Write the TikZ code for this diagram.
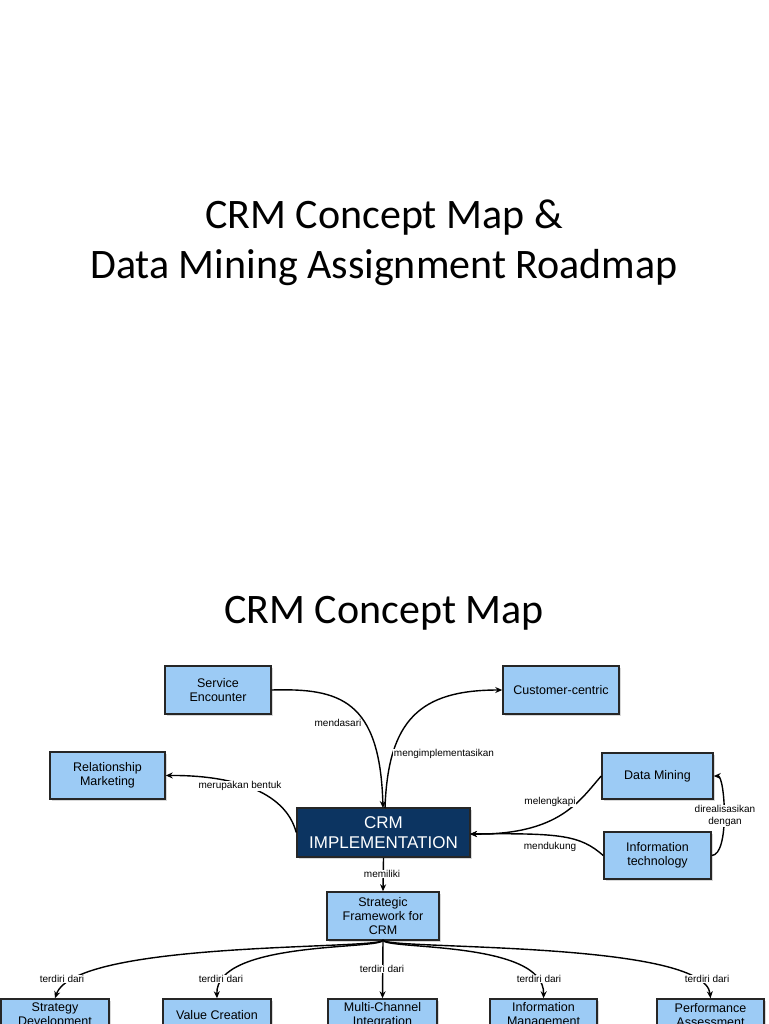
\documentclass[tikz,border=0pt]{standalone}
\usepackage{fontspec}
\setmainfont{Liberation Sans}
\newfontfamily\titlefont{Carlito}
\usetikzlibrary{shadows,arrows.meta}
\definecolor{boxblue}{HTML}{9CCBF5}
\definecolor{navy}{HTML}{0C3461}
\begin{document}
\begin{tikzpicture}[x=1pt,y=-1pt,
  box/.style={draw=black!85,line width=1.5pt,fill=boxblue,align=center,inner sep=1pt,
    font=\fontsize{12.5}{14}\selectfont,drop shadow={shadow xshift=2pt,shadow yshift=-2pt,opacity=0.3}},
  lab/.style={font=\fontsize{10}{12}\selectfont,align=center,fill=white,inner sep=0.5pt},
  con/.style={line width=1.4pt,-{Stealth[length=7pt,width=6pt]}},
  title/.style={font=\titlefont\fontsize{42}{48}\selectfont}]
\useasboundingbox (0,0) rectangle (768,1024);
\node[title] (t1) at (384,218) {CRM Concept Map \&};
\node[title] (t2) at (384,268) {Data Mining Assignment Roadmap};
\node[title] (t3) at (384,613) {CRM Concept Map};

\node[box,minimum width=106pt,minimum height=48pt] (se) at (218,690) {Service\\Encounter};
\node[box,minimum width=116pt,minimum height=48pt] (cc) at (561,690) {Customer-centric};
\node[box,minimum width=115pt,minimum height=47pt] (rm) at (107.5,775.5) {Relationship\\Marketing};
\node[box,minimum width=111pt,minimum height=46pt] (dm) at (657.5,776) {Data Mining};
\node[box,minimum width=107pt,minimum height=47pt] (it) at (657.5,855.5) {Information\\technology};
\node[box,fill=navy,text=white,minimum width=173pt,minimum height=49pt,font=\fontsize{17}{20}\selectfont] (crm) at (383.5,832.5) {CRM\\IMPLEMENTATION};
\node[box,minimum width=112pt,minimum height=48pt] (sf) at (383,916) {Strategic\\Framework for\\CRM};
\node[box,minimum width=108pt,minimum height=32pt] (b1) at (55,1015) {Strategy\\Development};
\node[box,minimum width=108pt,minimum height=32pt] (b2) at (217,1015) {Value Creation};
\node[box,minimum width=109pt,minimum height=32pt] (b3) at (382.5,1015) {Multi-Channel\\Integration};
\node[box,minimum width=107pt,minimum height=32pt] (b4) at (543.5,1015) {Information\\Management};
\node[box,minimum width=107pt,minimum height=32pt] (b5) at (710.5,1015) {Performance\\Assessment};

\coordinate (ctop) at (383,808);
\coordinate (ctop2) at (385,808);
\coordinate (cright) at (470,834);
\coordinate (sfb) at (383,940);

\draw[con] (se.east) .. controls (340,688) and (380,700) .. (ctop);
\draw[con] (ctop2) .. controls (388,720) and (420,690) .. (cc.west);
\draw[con] (crm.west) .. controls (285,790) and (230,775) .. (rm.east);
\draw[con] (dm.west) .. controls (580,800) and (560,835) .. (cright);
\draw[con] (it.west) .. controls (580,835) and (560,833) .. (cright);
\draw[con] (it.east) .. controls (730,855) and (725,776) .. (dm.east);
\draw[con] (crm.south) -- (sf.north);
\draw[con] (sfb) .. controls (383,950) and (75,940) .. (b1.north);
\draw[con] (sfb) .. controls (383,950) and (215,940) .. (b2.north);
\draw[con] (sfb) -- (b3.north);
\draw[con] (sfb) .. controls (383,950) and (545,940) .. (b4.north);
\draw[con] (sfb) .. controls (383,950) and (705,940) .. (b5.north);

\node[lab] (l1) at (338,723) {mendasari};
\node[lab] (l2) at (444,754) {mengimplementasikan};
\node[lab] (l3) at (240,786) {merupakan bentuk};
\node[lab] (l4) at (550,802) {melengkapi};
\node[lab] (l5) at (550,847) {mendukung};
\node[lab] (l6) at (725,816) {direalisasikan\\dengan};
\node[lab] (l7) at (382,874) {memiliki};
\node[lab] (l8) at (62,979) {terdiri dari};
\node[lab] (l9) at (221,979) {terdiri dari};
\node[lab] (l10) at (382,969) {terdiri dari};
\node[lab] (l11) at (539,979) {terdiri dari};
\node[lab] (l12) at (707,979) {terdiri dari};
\end{tikzpicture}
\end{document}
